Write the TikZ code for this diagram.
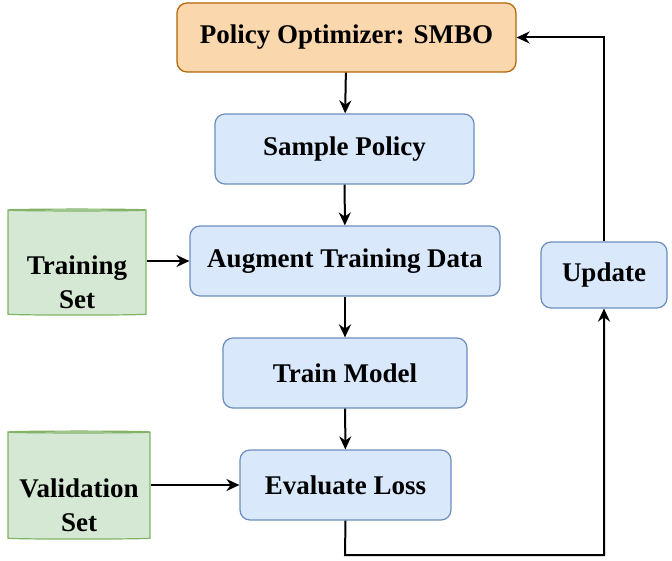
\documentclass[tikz,border=0pt]{standalone}
\usepackage{fontspec}
\setmainfont{Liberation Serif}
\usetikzlibrary{shapes.geometric,arrows.meta}
\definecolor{bfill}{HTML}{DAE8FC}\definecolor{bline}{HTML}{6C8EBF}
\definecolor{ofill}{HTML}{FAD7AC}\definecolor{oline}{HTML}{B46504}
\definecolor{gfill}{HTML}{D5E8D4}\definecolor{gline}{HTML}{82B366}
\begin{document}
\begin{tikzpicture}[x=1pt,y=-1pt,
 box/.style={draw=bline,fill=bfill,rounded corners=10pt,line width=1.2pt,font=\bfseries\fontsize{27}{34}\selectfont,align=center,inner sep=0pt},
 cyl/.style={draw=gline,fill=gfill,cylinder,shape border rotate=90,aspect=0.28,line width=1.2pt},
 lbl/.style={font=\bfseries\fontsize{27}{34}\selectfont,align=center,inner sep=0pt},
 arr/.style={-{Stealth[length=13pt,width=12pt]},line width=2pt}]
\useasboundingbox (0,0) rectangle (672,561);
\node[box,draw=oline,fill=ofill,minimum width=339pt,minimum height=69pt] (opt) at (346.5,37.5) {Policy Optimizer: SMBO};
\node[box,minimum width=259pt,minimum height=70pt] (sp) at (344.5,149) {Sample Policy};
\node[box,minimum width=310pt,minimum height=70pt] (aug) at (345,261) {Augment Training Data};
\node[box,minimum width=244pt,minimum height=70pt] (tm) at (345,373) {Train Model};
\node[box,minimum width=211pt,minimum height=70pt] (ev) at (345.5,485) {Evaluate Loss};
\node[box,minimum width=126pt,minimum height=66pt] (up) at (604,275) {Update};
\node[cyl,minimum width=138pt,minimum height=106pt] (ts) at (77,263) {};
\node[lbl] (tsl) at (77,282) {Training\\Set};
\node[cyl,minimum width=142pt,minimum height=108pt] (vs) at (79,486) {};
\node[lbl] (vsl) at (79,505) {Validation\\Set};
\draw[arr] (opt) -- (sp);
\draw[arr] (sp) -- (aug);
\draw[arr] (aug) -- (tm);
\draw[arr] (tm) -- (ev);
\draw[arr] (ts.east |- aug.west) -- (aug.west);
\draw[arr] (vs.east |- ev.west) -- (ev.west);
\coordinate (c1) at (345,555);
\coordinate (c2) at (604,555);
\coordinate (c3) at (604,37.5);
\draw[arr] (ev.south) -- (c1) -- (c2) -- (up.south);
\draw[arr] (up.north) -- (c3) -- (opt.east);
\end{tikzpicture}
\end{document}
